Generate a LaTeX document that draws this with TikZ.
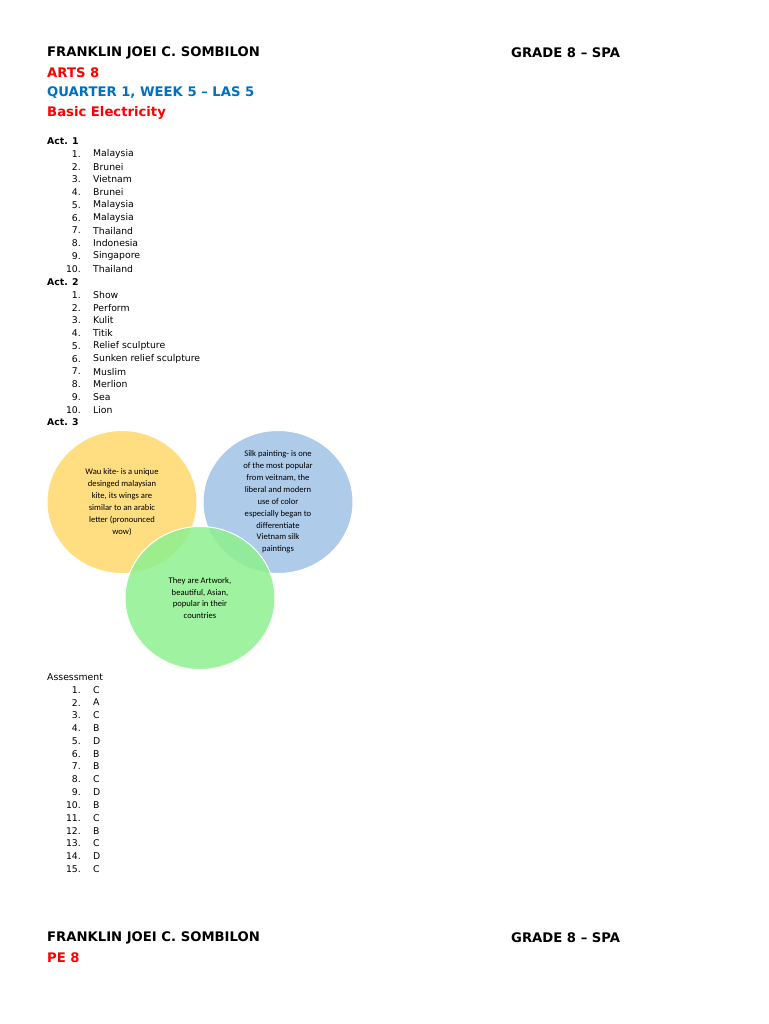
\documentclass[tikz,border=0pt]{standalone}
\usepackage{fontspec}
\setmainfont{DejaVu Sans}
\newfontfamily\venn{Carlito}
\definecolor{hred}{HTML}{FF0000}
\definecolor{hblue}{HTML}{0070C0}
\definecolor{cyel}{HTML}{FFDE82}
\definecolor{cblu}{HTML}{AECBEA}
\definecolor{cgrn}{HTML}{8EF08E}
\begin{document}
\begin{tikzpicture}[x=1pt,y=-1pt,
  hd/.style={anchor=west,inner sep=0,font=\fontsize{13.2}{15}\selectfont\bfseries},
  it/.style={anchor=west,inner sep=0,font=\fontsize{9.3}{11}\selectfont},
  num/.style={anchor=east,inner sep=0,font=\fontsize{9.3}{11}\selectfont},
  vt/.style={align=center,inner sep=0,font=\venn\fontsize{8.6}{11.9}\selectfont},
  circ/.style={draw=white,line width=1pt}]
\useasboundingbox (0,0) rectangle (768,1024);
\node[hd] (h1) at (47,53) {FRANKLIN JOEI C. SOMBILON};
\node[hd] (g1) at (511,53) {GRADE 8 – SPA};
\node[hd,text=hred] (a8) at (47,73) {ARTS 8};
\node[hd,text=hblue] (q1) at (47,93) {QUARTER 1, WEEK 5 – LAS 5};
\node[hd,text=hred] (be) at (47,113) {Basic Electricity};
\node[it,font=\fontsize{9.3}{11}\selectfont\bfseries] (act1) at (47,141) {Act. 1};
\foreach \t [count=\i] in {Malaysia,Brunei,Vietnam,Brunei,Malaysia,Malaysia,Thailand,Indonesia,Singapore,Thailand}{
  \node[num] (n1\i) at (81,141+12.8*\i) {\i.};
  \node[it] (t1\i) at (93,141+12.8*\i) {\t};}
\node[it,font=\fontsize{9.3}{11}\selectfont\bfseries] (act2) at (47,282) {Act. 2};
\foreach \t [count=\i] in {Show,Perform,Kulit,Titik,Relief sculpture,Sunken relief sculpture,Muslim,Merlion,Sea,Lion}{
  \node[num] (n2\i) at (81,282+12.8*\i) {\i.};
  \node[it] (t2\i) at (93,282+12.8*\i) {\t};}
\node[it,font=\fontsize{9.3}{11}\selectfont\bfseries] (act3) at (47,422) {Act. 3};
\fill[cyel] (122,502) ellipse (75 and 71.5);
\draw[circ] (122,502) ellipse (75 and 71.5);
\fill[cblu] (278,502) ellipse (75 and 71.5);
\draw[circ] (278,502) ellipse (75 and 71.5);
\fill[cgrn,fill opacity=0.85] (200,598) ellipse (75 and 71.5);
\draw[circ] (200,598) ellipse (75 and 71.5);
\node[vt] (vy) at (122,502) {Wau kite- is a unique\\desinged malaysian\\kite, its wings are\\similar to an arabic\\letter (pronounced\\wow)};
\node[vt] (vb) at (278,502) {Silk painting- is one\\of the most popular\\from veitnam, the\\liberal and modern\\use of color\\especially began to\\differentiate\\Vietnam silk\\paintings};
\node[vt] (vg) at (200,598) {They are Artwork,\\beautiful, Asian,\\popular in their\\countries};
\node[it] (as) at (47,677) {Assessment};
\foreach \t [count=\i] in {C,A,C,B,D,B,B,C,D,B,C,B,C,D,C}{
  \node[num] (n3\i) at (81,677+12.8*\i) {\i.};
  \node[it] (t3\i) at (93,677+12.8*\i) {\t};}
\node[hd] (h2) at (47,938) {FRANKLIN JOEI C. SOMBILON};
\node[hd] (g2) at (511,938) {GRADE 8 – SPA};
\node[hd,text=hred] (pe) at (47,958) {PE 8};
\end{tikzpicture}
\end{document}
